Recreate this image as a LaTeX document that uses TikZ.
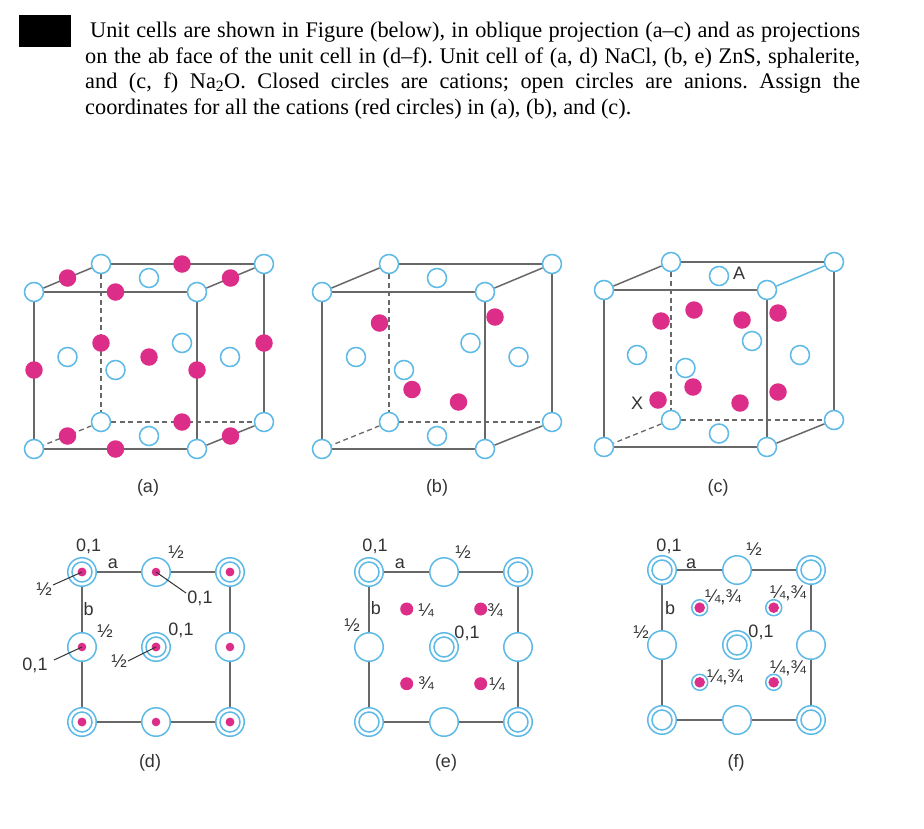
\documentclass[tikz,border=0pt]{standalone}
\usepackage{fontspec}
\setmainfont{Liberation Serif}
\newfontfamily\labfont{Liberation Sans}
\usetikzlibrary{backgrounds}
\definecolor{ionblue}{HTML}{5DB9E6}
\definecolor{ionred}{HTML}{DC2E88}
\definecolor{edgegray}{HTML}{686868}
\definecolor{labgray}{HTML}{333333}
\tikzset{
  anion/.style={circle,draw=ionblue,line width=1.5pt,fill=white,inner sep=0pt,minimum size=19pt},
  cation/.style={circle,fill=ionred,inner sep=0pt,minimum size=17.5pt},
  wide/.style={circle,draw=ionblue,line width=1.5pt,fill=white,inner sep=0pt,minimum size=28.5pt},
  ringb/.style={circle,draw=ionblue,line width=1.5pt,inner sep=0pt,minimum size=20pt},
  ringc/.style={circle,draw=ionblue,line width=1.5pt,fill=white,inner sep=0pt,minimum size=16pt},
  dotd/.style={circle,fill=ionred,inner sep=0pt,minimum size=8.6pt},
  dote/.style={circle,fill=ionred,inner sep=0pt,minimum size=13pt},
  dotf/.style={circle,fill=ionred,inner sep=0pt,minimum size=10.6pt},
  edge/.style={draw=edgegray,line width=1.5pt},
  edged/.style={draw=edgegray,line width=1.3pt,dash pattern=on 5pt off 3.5pt},
  leader/.style={draw=labgray,line width=1pt},
  caption/.style={font=\labfont\fontsize{18}{20}\selectfont,text=labgray,inner sep=0pt},
  lab/.style={font=\labfont\fontsize{18}{20}\selectfont,text=labgray,inner sep=0pt},
  frac/.style={font=\labfont\fontsize{18.5}{20}\selectfont,text=labgray,inner sep=0pt},
}
% corners of an oblique cell: prefix, x front left, x front right, x back left, x back right, y back top, y front top, y back bottom, y front bottom
\newcommand{\cellcorners}[9]{%
  \node[anion] (#1FTL) at (#2,#7) {};
  \node[anion] (#1FTR) at (#3,#7) {};
  \node[anion] (#1FBL) at (#2,#9) {};
  \node[anion] (#1FBR) at (#3,#9) {};
  \node[anion] (#1BTL) at (#4,#6) {};
  \node[anion] (#1BTR) at (#5,#6) {};
  \node[anion] (#1BBL) at (#4,#8) {};
  \node[anion] (#1BBR) at (#5,#8) {};
}
\newcommand{\celledges}[2]{%
  \begin{scope}[on background layer]
  \draw[edge] (#1FTL)--(#1FTR);
  \draw[edge] (#1FTR)--(#1FBR);
  \draw[edge] (#1FBR)--(#1FBL);
  \draw[edge] (#1FBL)--(#1FTL);
  \draw[edge] (#1FTL)--(#1BTL);
  \draw[edge] (#1BTL)--(#1BTR);
  \draw[edge,#2] (#1BTR)--(#1FTR);
  \draw[edge] (#1BTR)--(#1BBR);
  \draw[edge] (#1BBR)--(#1FBR);
  \draw[edged] (#1BTL)--(#1BBL);
  \draw[edged] (#1BBL)--(#1BBR);
  \draw[edged] (#1BBL)--(#1FBL);
  \end{scope}
}
\newcommand{\gridedges}[1]{%
  \begin{scope}[on background layer]
  \draw[edge] (#1a)--(#1b); \draw[edge] (#1b)--(#1c);
  \draw[edge] (#1c)--(#1f); \draw[edge] (#1f)--(#1i);
  \draw[edge] (#1i)--(#1h); \draw[edge] (#1h)--(#1g);
  \draw[edge] (#1g)--(#1d); \draw[edge] (#1d)--(#1a);
  \end{scope}
}
\begin{document}
\begin{tikzpicture}[x=1pt,y=-1pt]
\begin{scope}[on background layer]
\fill[white] (0,0) rectangle (924,828);
\end{scope}
\useasboundingbox (0,0) rectangle (924,828);
\node[fill=black,minimum width=52pt,minimum height=32pt,inner sep=0pt,anchor=north west] (mask) at (19,15) {};
\node[anchor=north west,inner sep=0pt,text width=775pt,font=\fontsize{22.3}{25.5}\selectfont,align=justify] (intro) at (85,22)
 {\frenchspacing\hspace*{5pt}Unit cells are shown in Figure (below), in oblique projection (a–c) and as projections\linebreak
 on the ab face of the unit cell in (d–f). Unit cell of (a, d) NaCl, (b, e) ZnS, sphalerite,\linebreak
 and (c, f) Na\textsubscript{2}O. Closed circles are cations; open circles are anions. Assign the\linebreak
 coordinates for all the cations (red circles) in (a), (b), and (c).\par};

% (a)
\cellcorners{a}{34}{197}{101}{264}{264}{292}{422}{449}
\foreach \px/\py [count=\i] in {149/278,67.5/357,115.5/370,182/343,230/357,149/436}
  \node[anion] (aa\i) at (\px,\py) {};
\foreach \px/\py [count=\i] in {67.5/278,182/264,230.5/278,115.5/292,101/343,149/357,197/370,34/370,264/343,67.5/436,182/422,230.5/436,115.5/449}
  \node[cation] (ac\i) at (\px,\py) {};
\celledges{a}{}
\node[caption] (capa) at (148,488) {(a)};

% (b)
\cellcorners{b}{322}{485}{389}{552}{264}{292}{422}{449}
\foreach \px/\py [count=\i] in {437/278,356/357,404/370,470.5/343,518.5/357,437/436}
  \node[anion] (ba\i) at (\px,\py) {};
\foreach \px/\py [count=\i] in {379.5/323,495/317,412/389.5,458.5/402}
  \node[cation] (bc\i) at (\px,\py) {};
\celledges{b}{}
\node[caption] (capb) at (437,488) {(b)};

% (c)
\cellcorners{c}{604}{767}{671}{834}{262}{290}{420}{447}
\foreach \px/\py [count=\i] in {719/276,637/355,685.5/368,752/341,800/355,719/433.5}
  \node[anion] (ca\i) at (\px,\py) {};
\foreach \px/\py [count=\i] in {661/321,694/310,742/320,778/313,693/387,658/400,740/403,778/392}
  \node[cation] (cc\i) at (\px,\py) {};
\celledges{c}{draw=ionblue}
\node[lab] (labA) at (739,273) {A};
\node[lab] (labX) at (637,403) {X};
\node[caption] (capc) at (718,488) {(c)};

% (d)
\foreach \n/\px/\py in {a/82/572,b/156/572,c/230/572,d/82/647,f/230/647,g/82/722,h/156/722,i/230/722,e/156/647}
  {\node[wide] (d\n) at (\px,\py) {};
   \node[dotd] (dd\n) at (\px,\py) {};}
\foreach \n/\px/\py in {a/82/572,c/230/572,e/156/647,g/82/722,i/230/722}
  {\node[ringb] (dr\n) at (\px,\py) {};
   \node[dotd] (dq\n) at (\px,\py) {};}
\gridedges{d}
\coordinate (dl1) at (53,585);
\coordinate (dl2) at (186,593);
\coordinate (dl3) at (54,660);
\coordinate (dl4) at (128,661);
\draw[leader] (dqa.center)--(dl1);
\draw[leader] (ddb.center)--(dl2);
\draw[leader] (ddd.center)--(dl3);
\draw[leader] (dqe.center)--(dl4);
\node[lab] (dt1) at (88.7,546) {0,1};
\node[frac] (dt2) at (176,552) {½};
\node[lab] (dt3) at (113,564) {a};
\node[frac] (dt4) at (44,589) {½};
\node[lab] (dt5) at (200,598) {0,1};
\node[lab] (dt6) at (88.7,609) {b};
\node[frac] (dt7) at (105,631) {½};
\node[lab] (dt8) at (181,630) {0,1};
\node[lab] (dt9) at (35,665) {0,1};
\node[frac] (dt10) at (119,661) {½};
\node[caption] (capd) at (150,763) {(d)};

% (e)
\foreach \n/\px/\py in {a/369/572,b/444/572,c/518/572,d/369/647,f/518/647,g/369/722,h/444/722,i/518/722,e/444/647}
  \node[wide] (e\n) at (\px,\py) {};
\foreach \n/\px/\py in {a/369/572,c/518/572,e/444/647,g/369/722,i/518/722}
  \node[ringb] (er\n) at (\px,\py) {};
\gridedges{e}
\foreach \px/\py [count=\i] in {406.7/609,480.7/609,406.7/683.7,480.7/683.7}
  \node[dote] (ec\i) at (\px,\py) {};
\node[lab] (et1) at (375,546) {0,1};
\node[frac] (et2) at (463,552) {½};
\node[lab] (et3) at (400,564) {a};
\node[lab] (et4) at (376,608) {b};
\node[frac] (et5) at (352,625) {½};
\node[frac] (et6) at (426,610) {¼};
\node[frac] (et7) at (495,610) {¾};
\node[lab] (et8) at (467,633) {0,1};
\node[frac] (et9) at (426,683) {¾};
\node[frac] (et10) at (497,684) {¼};
\node[caption] (cape) at (446,763) {(e)};

% (f)
\foreach \n/\px/\py in {a/662/570,b/737/570,c/811/570,d/662/645,f/811/645,g/662/720,h/737/720,i/811/720,e/737/645}
  \node[wide] (f\n) at (\px,\py) {};
\foreach \n/\px/\py in {a/662/570,c/811/570,e/737/645,g/662/720,i/811/720}
  \node[ringb] (fr\n) at (\px,\py) {};
\gridedges{f}
\foreach \px/\py [count=\i] in {699.7/607.7,773.7/607.7,699.7/682.3,773.7/682.3}
  {\node[ringc] (fo\i) at (\px,\py) {};
   \node[dotf] (fc\i) at (\px,\py) {};}
\node[lab] (ft1) at (669,546) {0,1};
\node[frac] (ft2) at (754,549) {½};
\node[lab] (ft3) at (691,564) {a};
\node[lab] (ft4) at (670,608) {b};
\node[frac] (ft5) at (641,632) {½};
\node[frac] (ft6) at (723,597) {¼,¾};
\node[frac] (ft7) at (788,593) {¼,¾};
\node[lab] (ft8) at (761,632) {0,1};
\node[frac] (ft9) at (725,677) {¼,¾};
\node[frac] (ft10) at (788,668) {¼,¾};
\node[caption] (capf) at (736,763) {(f)};
\end{tikzpicture}
\end{document}
